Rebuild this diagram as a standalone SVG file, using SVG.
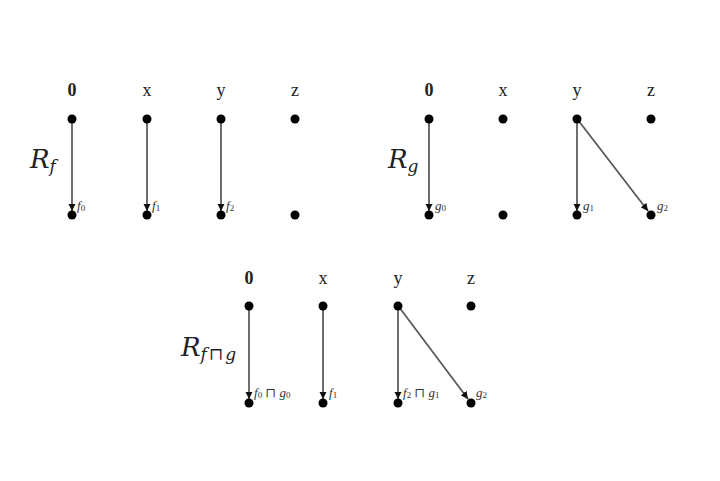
<svg xmlns="http://www.w3.org/2000/svg" width="720" height="481" viewBox="0 0 720 481">
<style>
.hd{font-family:"Liberation Serif","DejaVu Serif",serif;font-size:18px;fill:#222;text-anchor:middle}
.b{font-weight:bold}
.R{font-family:"DejaVu Serif","Liberation Serif",serif;font-style:italic;font-size:26px;fill:#222}
.Rs{font-size:17px}
.up{font-style:normal}
.lb{font-family:"Liberation Serif","DejaVu Serif",serif;font-style:italic;font-size:13px;fill:#333}
.sb{font-size:9px;font-style:normal}
.dot{fill:#000}
.e{stroke:#555;stroke-width:1.7;fill:none;marker-end:url(#ah)}
</style>
<defs>
<marker id="ah" viewBox="0 0 10 10" refX="10" refY="5" markerWidth="7.5" markerHeight="7.5" orient="auto" markerUnits="userSpaceOnUse">
<path d="M0,0 L10,5 L0,10 z" fill="#111"/>
</marker>
</defs>
<rect width="720" height="481" fill="#fff"/>
<g id="connectors">
<line class="e" x1="72" y1="121" x2="72" y2="211"/>
<line class="e" x1="147" y1="121" x2="147" y2="211"/>
<line class="e" x1="221" y1="121" x2="221" y2="211"/>
<line class="e" x1="429" y1="121" x2="429" y2="211"/>
<line class="e" x1="577" y1="121" x2="577" y2="211"/>
<line class="e" x1="578" y1="120" x2="648" y2="211"/>
<line class="e" x1="249" y1="308" x2="249" y2="399"/>
<line class="e" x1="323" y1="308" x2="323" y2="399"/>
<line class="e" x1="398" y1="308" x2="398" y2="399"/>
<line class="e" x1="399" y1="307" x2="468" y2="399"/>
</g>
<g id="panel-f">
<text class="hd b" x="72" y="96">0</text>
<text class="hd" x="147" y="96">x</text>
<text class="hd" x="221" y="96">y</text>
<text class="hd" x="295" y="96">z</text>
<text class="R" x="30" y="168">R<tspan class="Rs" dy="4">f</tspan></text>
<g id="n-f0t"><circle class="dot" cx="72" cy="119" r="4.5"/></g>
<g id="n-fxt"><circle class="dot" cx="147" cy="119" r="4.5"/></g>
<g id="n-fyt"><circle class="dot" cx="221" cy="119" r="4.5"/></g>
<g id="n-fzt"><circle class="dot" cx="295" cy="119" r="4.5"/></g>
<g id="n-f0b"><circle class="dot" cx="72" cy="215" r="4.5"/></g>
<g id="n-fxb"><circle class="dot" cx="147" cy="215" r="4.5"/></g>
<g id="n-fyb"><circle class="dot" cx="221" cy="215" r="4.5"/></g>
<g id="n-fzb"><circle class="dot" cx="295" cy="215" r="4.5"/></g>
<text class="lb" x="77" y="210">f<tspan class="sb" dy="1">0</tspan></text>
<text class="lb" x="152" y="210">f<tspan class="sb" dy="1">1</tspan></text>
<text class="lb" x="226" y="210">f<tspan class="sb" dy="1">2</tspan></text>
</g>
<g id="panel-g">
<text class="hd b" x="429" y="96">0</text>
<text class="hd" x="503" y="96">x</text>
<text class="hd" x="577" y="96">y</text>
<text class="hd" x="651" y="96">z</text>
<text class="R" x="388" y="168">R<tspan class="Rs" dy="4">g</tspan></text>
<g id="n-g0t"><circle class="dot" cx="429" cy="119" r="4.5"/></g>
<g id="n-gxt"><circle class="dot" cx="503" cy="119" r="4.5"/></g>
<g id="n-gyt"><circle class="dot" cx="577" cy="119" r="4.5"/></g>
<g id="n-gzt"><circle class="dot" cx="651" cy="119" r="4.5"/></g>
<g id="n-g0b"><circle class="dot" cx="429" cy="215" r="4.5"/></g>
<g id="n-gxb"><circle class="dot" cx="503" cy="215" r="4.5"/></g>
<g id="n-gyb"><circle class="dot" cx="577" cy="215" r="4.5"/></g>
<g id="n-gzb"><circle class="dot" cx="651" cy="215" r="4.5"/></g>
<text class="lb" x="435" y="210">g<tspan class="sb" dy="1">0</tspan></text>
<text class="lb" x="583" y="210">g<tspan class="sb" dy="1">1</tspan></text>
<text class="lb" x="657" y="210">g<tspan class="sb" dy="1">2</tspan></text>
</g>
<g id="panel-fg">
<text class="hd b" x="249" y="284">0</text>
<text class="hd" x="323" y="284">x</text>
<text class="hd" x="398" y="284">y</text>
<text class="hd" x="471" y="284">z</text>
<text class="R" x="181" y="356">R<tspan class="Rs" dy="4">f<tspan class="up" dx="2">⊓</tspan><tspan dx="2">g</tspan></tspan></text>
<g id="n-h0t"><circle class="dot" cx="249" cy="306" r="4.5"/></g>
<g id="n-hxt"><circle class="dot" cx="323" cy="306" r="4.5"/></g>
<g id="n-hyt"><circle class="dot" cx="398" cy="306" r="4.5"/></g>
<g id="n-hzt"><circle class="dot" cx="471" cy="306" r="4.5"/></g>
<g id="n-h0b"><circle class="dot" cx="249" cy="403" r="4.5"/></g>
<g id="n-hxb"><circle class="dot" cx="323" cy="403" r="4.5"/></g>
<g id="n-hyb"><circle class="dot" cx="398" cy="403" r="4.5"/></g>
<g id="n-hzb"><circle class="dot" cx="471" cy="403" r="4.5"/></g>
<text class="lb" x="254" y="397">f<tspan class="sb" dy="1">0</tspan><tspan class="up" dy="-1"> ⊓ </tspan>g<tspan class="sb" dy="1">0</tspan></text>
<text class="lb" x="329" y="397">f<tspan class="sb" dy="1">1</tspan></text>
<text class="lb" x="403" y="397">f<tspan class="sb" dy="1">2</tspan><tspan class="up" dy="-1"> ⊓ </tspan>g<tspan class="sb" dy="1">1</tspan></text>
<text class="lb" x="476" y="397">g<tspan class="sb" dy="1">2</tspan></text>
</g>
</svg>
